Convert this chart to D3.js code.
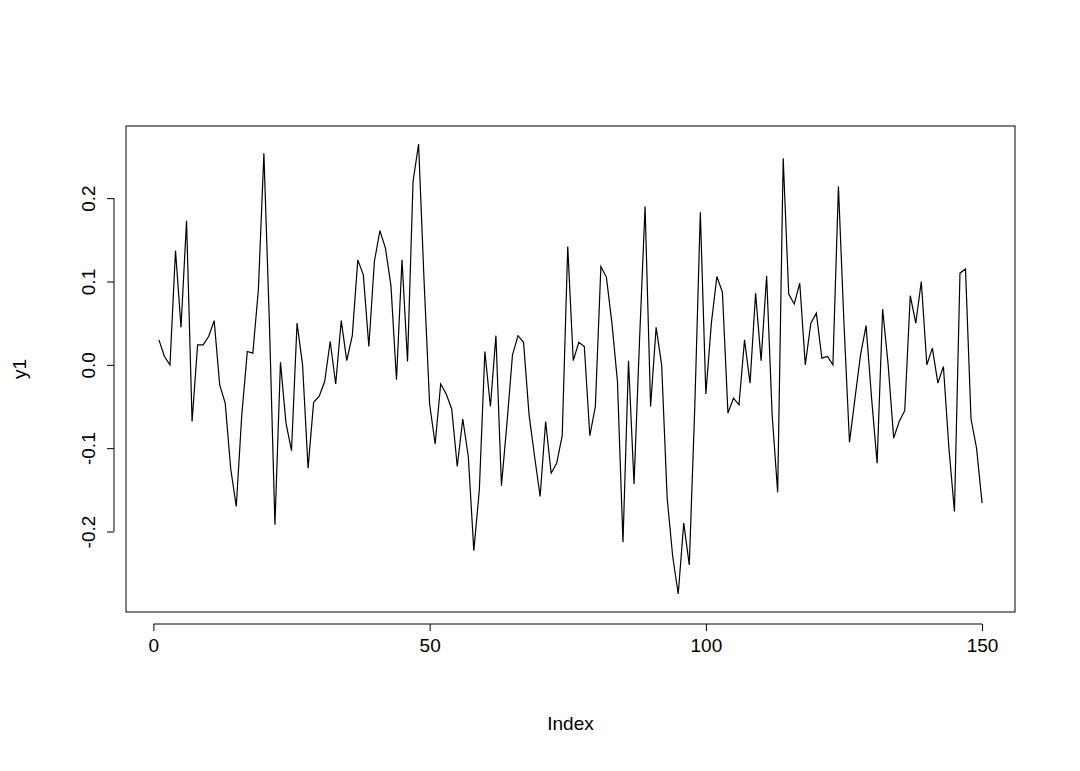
<!DOCTYPE html>
<html>
<head>
<meta charset="utf-8">
<script src="https://cdn.jsdelivr.net/npm/d3@7"></script>
<style>
  body { margin: 0; background: #fff; }
  text { font-family: "Liberation Sans", Arial, sans-serif; font-size: 19px; fill: #000; }
</style>
</head>
<body>
<div id="chart"></div>
<script>
// y1 values, index 1..150
var y1 = [
  0.03, 0.01, 0.0, 0.137, 0.045, 0.173, -0.068, 0.024, 0.024, 0.034,
  0.053, -0.024, -0.046, -0.125, -0.17, -0.06, 0.016, 0.014, 0.09, 0.254,
  0.05, -0.192, 0.003, -0.07, -0.103, 0.05, 0.0, -0.124, -0.045, -0.038,
  -0.02, 0.028, -0.023, 0.053, 0.005, 0.035, 0.126, 0.108, 0.022, 0.124,
  0.161, 0.14, 0.095, -0.018, 0.126, 0.004, 0.22, 0.265, 0.1, -0.047,
  -0.095, -0.023, -0.035, -0.053, -0.122, -0.065, -0.11, -0.223, -0.15, 0.016,
  -0.05, 0.035, -0.145, -0.07, 0.012, 0.035, 0.027, -0.06, -0.11, -0.158,
  -0.068, -0.13, -0.118, -0.085, 0.142, 0.005, 0.027, 0.022, -0.085, -0.05,
  0.118, 0.105, 0.05, -0.02, -0.213, 0.005, -0.143, 0.03, 0.19, -0.05,
  0.045, 0.0, -0.16, -0.23, -0.275, -0.19, -0.24, -0.05, 0.183, -0.035,
  0.05, 0.106, 0.087, -0.058, -0.04, -0.048, 0.03, -0.022, 0.086, 0.005,
  0.107, -0.06, -0.153, 0.248, 0.085, 0.073, 0.098, 0.0, 0.05, 0.062,
  0.008, 0.01, 0.0, 0.214, 0.05, -0.093, -0.04, 0.012, 0.047, -0.04,
  -0.118, 0.067, 0.0, -0.088, -0.068, -0.055, 0.083, 0.05, 0.1, 0.0,
  0.02, -0.022, -0.002, -0.1, -0.176, 0.11, 0.115, -0.065, -0.1, -0.166
];
var xTicks = [0, 50, 100, 150];
var yTicks = [-0.2, -0.1, 0.0, 0.1, 0.2];

var svgWidth = 1080, svgHeight = 771;
var margin = { top: 126, right: 65, bottom: 159, left: 126 };
var width = svgWidth - margin.left - margin.right;
var height = svgHeight - margin.top - margin.bottom;

var svg = d3.select("#chart").append("svg")
  .attr("width", svgWidth)
  .attr("height", svgHeight);

var chartGroup = svg.append("g")
  .attr("transform", `translate(${margin.left}, ${margin.top})`);

// R style: 4% padding on each side
var n = y1.length;
var xPad = (n - 1) * 0.04;
var xScale = d3.scaleLinear().domain([1 - xPad, n + xPad]).range([0, width]);
var yMin = d3.min(y1), yMax = d3.max(y1);
var yPad = (yMax - yMin) * 0.04;
var yScale = d3.scaleLinear().domain([yMin - yPad, yMax + yPad]).range([height, 0]);

var line = d3.line()
  .x(function(d, i) { return xScale(i + 1); })
  .y(function(d) { return yScale(d); });

chartGroup.append("path")
  .datum(y1)
  .attr("d", line)
  .attr("fill", "none")
  .attr("stroke", "#000")
  .attr("stroke-width", 1.2);

chartGroup.append("rect")
  .attr("width", width).attr("height", height)
  .attr("fill", "none").attr("stroke", "#000").attr("stroke-width", 1);

// x axis, offset below the box
var xAxis = chartGroup.append("g")
  .attr("transform", `translate(0, ${height + 12})`)
  .call(d3.axisBottom(xScale).tickValues(xTicks).tickSize(7).tickSizeOuter(0).tickPadding(8));
xAxis.select(".domain").attr("d", `M${xScale(0)},0H${xScale(150)}`);
xAxis.selectAll("text").style("font-size", "19px").style("font-family", "Liberation Sans, Arial, sans-serif");

// y axis, offset left of the box; plain hyphen minus like R
var yAxis = chartGroup.append("g")
  .attr("transform", "translate(-12, 0)")
  .call(d3.axisLeft(yScale).tickValues(yTicks).tickSize(7).tickSizeOuter(0)
    .tickFormat(function(d) { return d.toFixed(1); }));
yAxis.select(".domain").attr("d", `M0,${yScale(-0.2)}V${yScale(0.2)}`);
yAxis.selectAll(".tick text")
  .attr("x", 0).attr("dy", 0)
  .attr("transform", "translate(-19, 0) rotate(-90)")
  .attr("text-anchor", "middle")
  .style("font-size", "19px").style("font-family", "Liberation Sans, Arial, sans-serif");

svg.append("text")
  .attr("x", margin.left + width / 2).attr("y", 730)
  .attr("text-anchor", "middle").text("Index");

svg.append("text")
  .attr("transform", `translate(26, ${margin.top + height / 2}) rotate(-90)`)
  .attr("text-anchor", "middle").text("y1");
</script>
</body>
</html>
